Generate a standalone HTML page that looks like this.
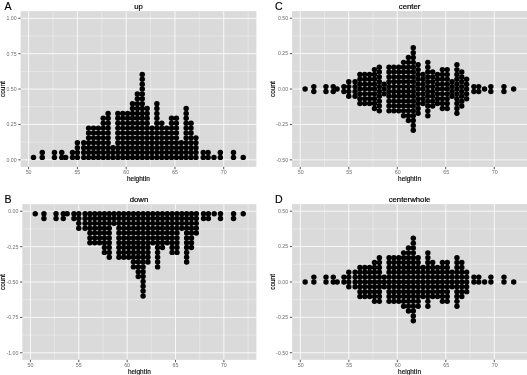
<!DOCTYPE html>
<html><head><meta charset="utf-8"><title>dotplot stackdir</title>
<style>html,body{margin:0;padding:0;background:#fff}svg{display:block}text{font-family:"Liberation Sans", Arial, sans-serif}</style></head><body>
<svg width="527" height="375" viewBox="0 0 527 375">
<rect width="527" height="375" fill="#fff"/>
<g>
<rect x="20.60" y="11.20" width="235.80" height="155.70" fill="#dadada"/>
<line x1="20.60" x2="256.40" y1="142.13" y2="142.13" stroke="#f4f4f4" stroke-width="0.45"/>
<line x1="20.60" x2="256.40" y1="106.74" y2="106.74" stroke="#f4f4f4" stroke-width="0.45"/>
<line x1="20.60" x2="256.40" y1="71.36" y2="71.36" stroke="#f4f4f4" stroke-width="0.45"/>
<line x1="20.60" x2="256.40" y1="35.97" y2="35.97" stroke="#f4f4f4" stroke-width="0.45"/>
<line x1="52.99" x2="52.99" y1="11.20" y2="166.90" stroke="#f4f4f4" stroke-width="0.45"/>
<line x1="101.77" x2="101.77" y1="11.20" y2="166.90" stroke="#f4f4f4" stroke-width="0.45"/>
<line x1="150.55" x2="150.55" y1="11.20" y2="166.90" stroke="#f4f4f4" stroke-width="0.45"/>
<line x1="199.33" x2="199.33" y1="11.20" y2="166.90" stroke="#f4f4f4" stroke-width="0.45"/>
<line x1="248.11" x2="248.11" y1="11.20" y2="166.90" stroke="#f4f4f4" stroke-width="0.45"/>
<line x1="20.60" x2="256.40" y1="159.82" y2="159.82" stroke="#ffffff" stroke-width="0.8"/>
<line x1="18.30" x2="20.60" y1="159.82" y2="159.82" stroke="#333333" stroke-width="0.85"/>
<text x="16.60" y="161.67" font-size="5.2" text-anchor="end" fill="#6e6e6e">0.00</text>
<line x1="20.60" x2="256.40" y1="124.44" y2="124.44" stroke="#ffffff" stroke-width="0.8"/>
<line x1="18.30" x2="20.60" y1="124.44" y2="124.44" stroke="#333333" stroke-width="0.85"/>
<text x="16.60" y="126.29" font-size="5.2" text-anchor="end" fill="#6e6e6e">0.25</text>
<line x1="20.60" x2="256.40" y1="89.05" y2="89.05" stroke="#ffffff" stroke-width="0.8"/>
<line x1="18.30" x2="20.60" y1="89.05" y2="89.05" stroke="#333333" stroke-width="0.85"/>
<text x="16.60" y="90.90" font-size="5.2" text-anchor="end" fill="#6e6e6e">0.50</text>
<line x1="20.60" x2="256.40" y1="53.66" y2="53.66" stroke="#ffffff" stroke-width="0.8"/>
<line x1="18.30" x2="20.60" y1="53.66" y2="53.66" stroke="#333333" stroke-width="0.85"/>
<text x="16.60" y="55.51" font-size="5.2" text-anchor="end" fill="#6e6e6e">0.75</text>
<line x1="20.60" x2="256.40" y1="18.28" y2="18.28" stroke="#ffffff" stroke-width="0.8"/>
<line x1="18.30" x2="20.60" y1="18.28" y2="18.28" stroke="#333333" stroke-width="0.85"/>
<text x="16.60" y="20.13" font-size="5.2" text-anchor="end" fill="#6e6e6e">1.00</text>
<line x1="28.60" x2="28.60" y1="11.20" y2="166.90" stroke="#ffffff" stroke-width="0.8"/>
<line x1="28.60" x2="28.60" y1="166.90" y2="169.20" stroke="#333333" stroke-width="0.85"/>
<text x="28.60" y="174.40" font-size="5.3" text-anchor="middle" fill="#6e6e6e">50</text>
<line x1="77.38" x2="77.38" y1="11.20" y2="166.90" stroke="#ffffff" stroke-width="0.8"/>
<line x1="77.38" x2="77.38" y1="166.90" y2="169.20" stroke="#333333" stroke-width="0.85"/>
<text x="77.38" y="174.40" font-size="5.3" text-anchor="middle" fill="#6e6e6e">55</text>
<line x1="126.16" x2="126.16" y1="11.20" y2="166.90" stroke="#ffffff" stroke-width="0.8"/>
<line x1="126.16" x2="126.16" y1="166.90" y2="169.20" stroke="#333333" stroke-width="0.85"/>
<text x="126.16" y="174.40" font-size="5.3" text-anchor="middle" fill="#6e6e6e">60</text>
<line x1="174.94" x2="174.94" y1="11.20" y2="166.90" stroke="#ffffff" stroke-width="0.8"/>
<line x1="174.94" x2="174.94" y1="166.90" y2="169.20" stroke="#333333" stroke-width="0.85"/>
<text x="174.94" y="174.40" font-size="5.3" text-anchor="middle" fill="#6e6e6e">65</text>
<line x1="223.72" x2="223.72" y1="11.20" y2="166.90" stroke="#ffffff" stroke-width="0.8"/>
<line x1="223.72" x2="223.72" y1="166.90" y2="169.20" stroke="#333333" stroke-width="0.85"/>
<text x="223.72" y="174.40" font-size="5.3" text-anchor="middle" fill="#6e6e6e">70</text>
<circle cx="33.48" cy="157.38" r="2.74"/>
<circle cx="42.26" cy="157.38" r="2.74"/>
<circle cx="42.26" cy="152.51" r="2.74"/>
<circle cx="54.45" cy="157.38" r="2.74"/>
<circle cx="54.45" cy="152.51" r="2.74"/>
<circle cx="61.77" cy="157.38" r="2.74"/>
<circle cx="61.77" cy="152.51" r="2.74"/>
<circle cx="65.67" cy="157.38" r="2.74"/>
<circle cx="72.50" cy="157.38" r="2.74"/>
<circle cx="72.50" cy="152.51" r="2.74"/>
<circle cx="77.38" cy="157.38" r="2.74"/>
<circle cx="77.38" cy="152.51" r="2.74"/>
<circle cx="77.38" cy="147.63" r="2.74"/>
<circle cx="77.38" cy="142.75" r="2.74"/>
<circle cx="83.72" cy="157.38" r="2.74"/>
<circle cx="83.72" cy="152.51" r="2.74"/>
<circle cx="83.72" cy="147.63" r="2.74"/>
<circle cx="83.72" cy="142.75" r="2.74"/>
<circle cx="88.60" cy="157.38" r="2.74"/>
<circle cx="88.60" cy="152.51" r="2.74"/>
<circle cx="88.60" cy="147.63" r="2.74"/>
<circle cx="88.60" cy="142.75" r="2.74"/>
<circle cx="88.60" cy="137.87" r="2.74"/>
<circle cx="88.60" cy="132.99" r="2.74"/>
<circle cx="88.60" cy="128.12" r="2.74"/>
<circle cx="93.48" cy="157.38" r="2.74"/>
<circle cx="93.48" cy="152.51" r="2.74"/>
<circle cx="93.48" cy="147.63" r="2.74"/>
<circle cx="93.48" cy="142.75" r="2.74"/>
<circle cx="93.48" cy="137.87" r="2.74"/>
<circle cx="93.48" cy="132.99" r="2.74"/>
<circle cx="93.48" cy="128.12" r="2.74"/>
<circle cx="98.36" cy="157.38" r="2.74"/>
<circle cx="98.36" cy="152.51" r="2.74"/>
<circle cx="98.36" cy="147.63" r="2.74"/>
<circle cx="98.36" cy="142.75" r="2.74"/>
<circle cx="98.36" cy="137.87" r="2.74"/>
<circle cx="98.36" cy="132.99" r="2.74"/>
<circle cx="98.36" cy="128.12" r="2.74"/>
<circle cx="103.23" cy="157.38" r="2.74"/>
<circle cx="103.23" cy="152.51" r="2.74"/>
<circle cx="103.23" cy="147.63" r="2.74"/>
<circle cx="103.23" cy="142.75" r="2.74"/>
<circle cx="103.23" cy="137.87" r="2.74"/>
<circle cx="103.23" cy="132.99" r="2.74"/>
<circle cx="103.23" cy="128.12" r="2.74"/>
<circle cx="103.23" cy="123.24" r="2.74"/>
<circle cx="103.23" cy="118.36" r="2.74"/>
<circle cx="108.11" cy="157.38" r="2.74"/>
<circle cx="108.11" cy="152.51" r="2.74"/>
<circle cx="108.11" cy="147.63" r="2.74"/>
<circle cx="108.11" cy="142.75" r="2.74"/>
<circle cx="108.11" cy="137.87" r="2.74"/>
<circle cx="108.11" cy="132.99" r="2.74"/>
<circle cx="108.11" cy="128.12" r="2.74"/>
<circle cx="108.11" cy="123.24" r="2.74"/>
<circle cx="108.11" cy="118.36" r="2.74"/>
<circle cx="108.11" cy="113.48" r="2.74"/>
<circle cx="112.99" cy="157.38" r="2.74"/>
<circle cx="112.99" cy="152.51" r="2.74"/>
<circle cx="112.99" cy="147.63" r="2.74"/>
<circle cx="117.87" cy="157.38" r="2.74"/>
<circle cx="117.87" cy="152.51" r="2.74"/>
<circle cx="117.87" cy="147.63" r="2.74"/>
<circle cx="117.87" cy="142.75" r="2.74"/>
<circle cx="117.87" cy="137.87" r="2.74"/>
<circle cx="117.87" cy="132.99" r="2.74"/>
<circle cx="117.87" cy="128.12" r="2.74"/>
<circle cx="117.87" cy="123.24" r="2.74"/>
<circle cx="117.87" cy="118.36" r="2.74"/>
<circle cx="117.87" cy="113.48" r="2.74"/>
<circle cx="122.75" cy="157.38" r="2.74"/>
<circle cx="122.75" cy="152.51" r="2.74"/>
<circle cx="122.75" cy="147.63" r="2.74"/>
<circle cx="122.75" cy="142.75" r="2.74"/>
<circle cx="122.75" cy="137.87" r="2.74"/>
<circle cx="122.75" cy="132.99" r="2.74"/>
<circle cx="122.75" cy="128.12" r="2.74"/>
<circle cx="122.75" cy="123.24" r="2.74"/>
<circle cx="122.75" cy="118.36" r="2.74"/>
<circle cx="122.75" cy="113.48" r="2.74"/>
<circle cx="127.62" cy="157.38" r="2.74"/>
<circle cx="127.62" cy="152.51" r="2.74"/>
<circle cx="127.62" cy="147.63" r="2.74"/>
<circle cx="127.62" cy="142.75" r="2.74"/>
<circle cx="127.62" cy="137.87" r="2.74"/>
<circle cx="127.62" cy="132.99" r="2.74"/>
<circle cx="127.62" cy="128.12" r="2.74"/>
<circle cx="127.62" cy="123.24" r="2.74"/>
<circle cx="127.62" cy="118.36" r="2.74"/>
<circle cx="127.62" cy="113.48" r="2.74"/>
<circle cx="132.50" cy="157.38" r="2.74"/>
<circle cx="132.50" cy="152.51" r="2.74"/>
<circle cx="132.50" cy="147.63" r="2.74"/>
<circle cx="132.50" cy="142.75" r="2.74"/>
<circle cx="132.50" cy="137.87" r="2.74"/>
<circle cx="132.50" cy="132.99" r="2.74"/>
<circle cx="132.50" cy="128.12" r="2.74"/>
<circle cx="132.50" cy="123.24" r="2.74"/>
<circle cx="132.50" cy="118.36" r="2.74"/>
<circle cx="132.50" cy="113.48" r="2.74"/>
<circle cx="132.50" cy="108.60" r="2.74"/>
<circle cx="132.50" cy="103.73" r="2.74"/>
<circle cx="137.38" cy="157.38" r="2.74"/>
<circle cx="137.38" cy="152.51" r="2.74"/>
<circle cx="137.38" cy="147.63" r="2.74"/>
<circle cx="137.38" cy="142.75" r="2.74"/>
<circle cx="137.38" cy="137.87" r="2.74"/>
<circle cx="137.38" cy="132.99" r="2.74"/>
<circle cx="137.38" cy="128.12" r="2.74"/>
<circle cx="137.38" cy="123.24" r="2.74"/>
<circle cx="137.38" cy="118.36" r="2.74"/>
<circle cx="137.38" cy="113.48" r="2.74"/>
<circle cx="137.38" cy="108.60" r="2.74"/>
<circle cx="137.38" cy="103.73" r="2.74"/>
<circle cx="137.38" cy="98.85" r="2.74"/>
<circle cx="137.38" cy="93.97" r="2.74"/>
<circle cx="142.26" cy="157.38" r="2.74"/>
<circle cx="142.26" cy="152.51" r="2.74"/>
<circle cx="142.26" cy="147.63" r="2.74"/>
<circle cx="142.26" cy="142.75" r="2.74"/>
<circle cx="142.26" cy="137.87" r="2.74"/>
<circle cx="142.26" cy="132.99" r="2.74"/>
<circle cx="142.26" cy="128.12" r="2.74"/>
<circle cx="142.26" cy="123.24" r="2.74"/>
<circle cx="142.26" cy="118.36" r="2.74"/>
<circle cx="142.26" cy="113.48" r="2.74"/>
<circle cx="142.26" cy="108.60" r="2.74"/>
<circle cx="142.26" cy="103.73" r="2.74"/>
<circle cx="142.26" cy="98.85" r="2.74"/>
<circle cx="142.26" cy="93.97" r="2.74"/>
<circle cx="142.26" cy="89.09" r="2.74"/>
<circle cx="142.26" cy="84.21" r="2.74"/>
<circle cx="142.26" cy="79.34" r="2.74"/>
<circle cx="142.26" cy="74.46" r="2.74"/>
<circle cx="147.14" cy="157.38" r="2.74"/>
<circle cx="147.14" cy="152.51" r="2.74"/>
<circle cx="147.14" cy="147.63" r="2.74"/>
<circle cx="147.14" cy="142.75" r="2.74"/>
<circle cx="147.14" cy="137.87" r="2.74"/>
<circle cx="147.14" cy="132.99" r="2.74"/>
<circle cx="147.14" cy="128.12" r="2.74"/>
<circle cx="147.14" cy="123.24" r="2.74"/>
<circle cx="147.14" cy="118.36" r="2.74"/>
<circle cx="147.14" cy="113.48" r="2.74"/>
<circle cx="147.14" cy="108.60" r="2.74"/>
<circle cx="152.01" cy="157.38" r="2.74"/>
<circle cx="152.01" cy="152.51" r="2.74"/>
<circle cx="152.01" cy="147.63" r="2.74"/>
<circle cx="152.01" cy="142.75" r="2.74"/>
<circle cx="152.01" cy="137.87" r="2.74"/>
<circle cx="152.01" cy="132.99" r="2.74"/>
<circle cx="152.01" cy="128.12" r="2.74"/>
<circle cx="156.89" cy="157.38" r="2.74"/>
<circle cx="156.89" cy="152.51" r="2.74"/>
<circle cx="156.89" cy="147.63" r="2.74"/>
<circle cx="156.89" cy="142.75" r="2.74"/>
<circle cx="156.89" cy="137.87" r="2.74"/>
<circle cx="156.89" cy="132.99" r="2.74"/>
<circle cx="156.89" cy="128.12" r="2.74"/>
<circle cx="156.89" cy="123.24" r="2.74"/>
<circle cx="156.89" cy="118.36" r="2.74"/>
<circle cx="156.89" cy="113.48" r="2.74"/>
<circle cx="156.89" cy="108.60" r="2.74"/>
<circle cx="156.89" cy="103.73" r="2.74"/>
<circle cx="161.77" cy="157.38" r="2.74"/>
<circle cx="161.77" cy="152.51" r="2.74"/>
<circle cx="161.77" cy="147.63" r="2.74"/>
<circle cx="161.77" cy="142.75" r="2.74"/>
<circle cx="161.77" cy="137.87" r="2.74"/>
<circle cx="161.77" cy="132.99" r="2.74"/>
<circle cx="161.77" cy="128.12" r="2.74"/>
<circle cx="161.77" cy="123.24" r="2.74"/>
<circle cx="166.65" cy="157.38" r="2.74"/>
<circle cx="166.65" cy="152.51" r="2.74"/>
<circle cx="166.65" cy="147.63" r="2.74"/>
<circle cx="166.65" cy="142.75" r="2.74"/>
<circle cx="166.65" cy="137.87" r="2.74"/>
<circle cx="166.65" cy="132.99" r="2.74"/>
<circle cx="166.65" cy="128.12" r="2.74"/>
<circle cx="171.53" cy="157.38" r="2.74"/>
<circle cx="171.53" cy="152.51" r="2.74"/>
<circle cx="171.53" cy="147.63" r="2.74"/>
<circle cx="171.53" cy="142.75" r="2.74"/>
<circle cx="171.53" cy="137.87" r="2.74"/>
<circle cx="171.53" cy="132.99" r="2.74"/>
<circle cx="171.53" cy="128.12" r="2.74"/>
<circle cx="171.53" cy="123.24" r="2.74"/>
<circle cx="171.53" cy="118.36" r="2.74"/>
<circle cx="176.40" cy="157.38" r="2.74"/>
<circle cx="176.40" cy="152.51" r="2.74"/>
<circle cx="176.40" cy="147.63" r="2.74"/>
<circle cx="176.40" cy="142.75" r="2.74"/>
<circle cx="176.40" cy="137.87" r="2.74"/>
<circle cx="176.40" cy="132.99" r="2.74"/>
<circle cx="176.40" cy="128.12" r="2.74"/>
<circle cx="176.40" cy="123.24" r="2.74"/>
<circle cx="176.40" cy="118.36" r="2.74"/>
<circle cx="181.28" cy="157.38" r="2.74"/>
<circle cx="181.28" cy="152.51" r="2.74"/>
<circle cx="181.28" cy="147.63" r="2.74"/>
<circle cx="181.28" cy="142.75" r="2.74"/>
<circle cx="186.16" cy="157.38" r="2.74"/>
<circle cx="186.16" cy="152.51" r="2.74"/>
<circle cx="186.16" cy="147.63" r="2.74"/>
<circle cx="186.16" cy="142.75" r="2.74"/>
<circle cx="186.16" cy="137.87" r="2.74"/>
<circle cx="186.16" cy="132.99" r="2.74"/>
<circle cx="186.16" cy="128.12" r="2.74"/>
<circle cx="186.16" cy="123.24" r="2.74"/>
<circle cx="186.16" cy="118.36" r="2.74"/>
<circle cx="186.16" cy="113.48" r="2.74"/>
<circle cx="186.16" cy="108.60" r="2.74"/>
<circle cx="191.04" cy="157.38" r="2.74"/>
<circle cx="191.04" cy="152.51" r="2.74"/>
<circle cx="191.04" cy="147.63" r="2.74"/>
<circle cx="191.04" cy="142.75" r="2.74"/>
<circle cx="191.04" cy="137.87" r="2.74"/>
<circle cx="191.04" cy="132.99" r="2.74"/>
<circle cx="191.04" cy="128.12" r="2.74"/>
<circle cx="191.04" cy="123.24" r="2.74"/>
<circle cx="195.92" cy="157.38" r="2.74"/>
<circle cx="195.92" cy="152.51" r="2.74"/>
<circle cx="195.92" cy="147.63" r="2.74"/>
<circle cx="195.92" cy="142.75" r="2.74"/>
<circle cx="195.92" cy="137.87" r="2.74"/>
<circle cx="203.23" cy="157.38" r="2.74"/>
<circle cx="203.23" cy="152.51" r="2.74"/>
<circle cx="208.11" cy="157.38" r="2.74"/>
<circle cx="208.11" cy="152.51" r="2.74"/>
<circle cx="213.96" cy="157.38" r="2.74"/>
<circle cx="220.31" cy="157.38" r="2.74"/>
<circle cx="220.31" cy="152.51" r="2.74"/>
<circle cx="233.48" cy="157.38" r="2.74"/>
<circle cx="233.48" cy="152.51" r="2.74"/>
<circle cx="243.23" cy="157.38" r="2.74"/>
<text x="138.50" y="9.30" font-size="7.75" text-anchor="middle" fill="#000" stroke="#000" stroke-width="0.2">up</text>
<text x="138.50" y="181.40" font-size="6.45" text-anchor="middle" fill="#000" stroke="#000" stroke-width="0.15">heightIn</text>
<text transform="translate(4.60 89.05) rotate(-90)" font-size="6.45" text-anchor="middle" fill="#000" stroke="#000" stroke-width="0.15">count</text>
<text x="4.60" y="9.60" font-size="10.6" fill="#000" stroke="#000" stroke-width="0.15">A</text>
</g>
<g>
<rect x="22.30" y="204.20" width="234.10" height="155.65" fill="#dadada"/>
<line x1="22.30" x2="256.40" y1="335.09" y2="335.09" stroke="#f4f4f4" stroke-width="0.45"/>
<line x1="22.30" x2="256.40" y1="299.71" y2="299.71" stroke="#f4f4f4" stroke-width="0.45"/>
<line x1="22.30" x2="256.40" y1="264.34" y2="264.34" stroke="#f4f4f4" stroke-width="0.45"/>
<line x1="22.30" x2="256.40" y1="228.96" y2="228.96" stroke="#f4f4f4" stroke-width="0.45"/>
<line x1="54.58" x2="54.58" y1="204.20" y2="359.85" stroke="#f4f4f4" stroke-width="0.45"/>
<line x1="102.95" x2="102.95" y1="204.20" y2="359.85" stroke="#f4f4f4" stroke-width="0.45"/>
<line x1="151.32" x2="151.32" y1="204.20" y2="359.85" stroke="#f4f4f4" stroke-width="0.45"/>
<line x1="199.69" x2="199.69" y1="204.20" y2="359.85" stroke="#f4f4f4" stroke-width="0.45"/>
<line x1="248.06" x2="248.06" y1="204.20" y2="359.85" stroke="#f4f4f4" stroke-width="0.45"/>
<line x1="22.30" x2="256.40" y1="352.78" y2="352.78" stroke="#ffffff" stroke-width="0.8"/>
<line x1="20.00" x2="22.30" y1="352.78" y2="352.78" stroke="#333333" stroke-width="0.85"/>
<text x="18.30" y="354.63" font-size="5.2" text-anchor="end" fill="#6e6e6e">-1.00</text>
<line x1="22.30" x2="256.40" y1="317.40" y2="317.40" stroke="#ffffff" stroke-width="0.8"/>
<line x1="20.00" x2="22.30" y1="317.40" y2="317.40" stroke="#333333" stroke-width="0.85"/>
<text x="18.30" y="319.25" font-size="5.2" text-anchor="end" fill="#6e6e6e">-0.75</text>
<line x1="22.30" x2="256.40" y1="282.02" y2="282.02" stroke="#ffffff" stroke-width="0.8"/>
<line x1="20.00" x2="22.30" y1="282.02" y2="282.02" stroke="#333333" stroke-width="0.85"/>
<text x="18.30" y="283.88" font-size="5.2" text-anchor="end" fill="#6e6e6e">-0.50</text>
<line x1="22.30" x2="256.40" y1="246.65" y2="246.65" stroke="#ffffff" stroke-width="0.8"/>
<line x1="20.00" x2="22.30" y1="246.65" y2="246.65" stroke="#333333" stroke-width="0.85"/>
<text x="18.30" y="248.50" font-size="5.2" text-anchor="end" fill="#6e6e6e">-0.25</text>
<line x1="22.30" x2="256.40" y1="211.27" y2="211.27" stroke="#ffffff" stroke-width="0.8"/>
<line x1="20.00" x2="22.30" y1="211.27" y2="211.27" stroke="#333333" stroke-width="0.85"/>
<text x="18.30" y="213.12" font-size="5.2" text-anchor="end" fill="#6e6e6e">0.00</text>
<line x1="30.40" x2="30.40" y1="204.20" y2="359.85" stroke="#ffffff" stroke-width="0.8"/>
<line x1="30.40" x2="30.40" y1="359.85" y2="362.15" stroke="#333333" stroke-width="0.85"/>
<text x="30.40" y="367.35" font-size="5.3" text-anchor="middle" fill="#6e6e6e">50</text>
<line x1="78.77" x2="78.77" y1="204.20" y2="359.85" stroke="#ffffff" stroke-width="0.8"/>
<line x1="78.77" x2="78.77" y1="359.85" y2="362.15" stroke="#333333" stroke-width="0.85"/>
<text x="78.77" y="367.35" font-size="5.3" text-anchor="middle" fill="#6e6e6e">55</text>
<line x1="127.14" x2="127.14" y1="204.20" y2="359.85" stroke="#ffffff" stroke-width="0.8"/>
<line x1="127.14" x2="127.14" y1="359.85" y2="362.15" stroke="#333333" stroke-width="0.85"/>
<text x="127.14" y="367.35" font-size="5.3" text-anchor="middle" fill="#6e6e6e">60</text>
<line x1="175.51" x2="175.51" y1="204.20" y2="359.85" stroke="#ffffff" stroke-width="0.8"/>
<line x1="175.51" x2="175.51" y1="359.85" y2="362.15" stroke="#333333" stroke-width="0.85"/>
<text x="175.51" y="367.35" font-size="5.3" text-anchor="middle" fill="#6e6e6e">65</text>
<line x1="223.88" x2="223.88" y1="204.20" y2="359.85" stroke="#ffffff" stroke-width="0.8"/>
<line x1="223.88" x2="223.88" y1="359.85" y2="362.15" stroke="#333333" stroke-width="0.85"/>
<text x="223.88" y="367.35" font-size="5.3" text-anchor="middle" fill="#6e6e6e">70</text>
<circle cx="35.24" cy="213.69" r="2.72"/>
<circle cx="43.94" cy="213.69" r="2.72"/>
<circle cx="43.94" cy="218.53" r="2.72"/>
<circle cx="56.04" cy="213.69" r="2.72"/>
<circle cx="56.04" cy="218.53" r="2.72"/>
<circle cx="63.29" cy="213.69" r="2.72"/>
<circle cx="63.29" cy="218.53" r="2.72"/>
<circle cx="67.16" cy="213.69" r="2.72"/>
<circle cx="73.93" cy="213.69" r="2.72"/>
<circle cx="73.93" cy="218.53" r="2.72"/>
<circle cx="78.77" cy="213.69" r="2.72"/>
<circle cx="78.77" cy="218.53" r="2.72"/>
<circle cx="78.77" cy="223.37" r="2.72"/>
<circle cx="78.77" cy="228.20" r="2.72"/>
<circle cx="85.06" cy="213.69" r="2.72"/>
<circle cx="85.06" cy="218.53" r="2.72"/>
<circle cx="85.06" cy="223.37" r="2.72"/>
<circle cx="85.06" cy="228.20" r="2.72"/>
<circle cx="89.90" cy="213.69" r="2.72"/>
<circle cx="89.90" cy="218.53" r="2.72"/>
<circle cx="89.90" cy="223.37" r="2.72"/>
<circle cx="89.90" cy="228.20" r="2.72"/>
<circle cx="89.90" cy="233.04" r="2.72"/>
<circle cx="89.90" cy="237.88" r="2.72"/>
<circle cx="89.90" cy="242.72" r="2.72"/>
<circle cx="94.73" cy="213.69" r="2.72"/>
<circle cx="94.73" cy="218.53" r="2.72"/>
<circle cx="94.73" cy="223.37" r="2.72"/>
<circle cx="94.73" cy="228.20" r="2.72"/>
<circle cx="94.73" cy="233.04" r="2.72"/>
<circle cx="94.73" cy="237.88" r="2.72"/>
<circle cx="94.73" cy="242.72" r="2.72"/>
<circle cx="99.57" cy="213.69" r="2.72"/>
<circle cx="99.57" cy="218.53" r="2.72"/>
<circle cx="99.57" cy="223.37" r="2.72"/>
<circle cx="99.57" cy="228.20" r="2.72"/>
<circle cx="99.57" cy="233.04" r="2.72"/>
<circle cx="99.57" cy="237.88" r="2.72"/>
<circle cx="99.57" cy="242.72" r="2.72"/>
<circle cx="104.41" cy="213.69" r="2.72"/>
<circle cx="104.41" cy="218.53" r="2.72"/>
<circle cx="104.41" cy="223.37" r="2.72"/>
<circle cx="104.41" cy="228.20" r="2.72"/>
<circle cx="104.41" cy="233.04" r="2.72"/>
<circle cx="104.41" cy="237.88" r="2.72"/>
<circle cx="104.41" cy="242.72" r="2.72"/>
<circle cx="104.41" cy="247.55" r="2.72"/>
<circle cx="104.41" cy="252.39" r="2.72"/>
<circle cx="109.24" cy="213.69" r="2.72"/>
<circle cx="109.24" cy="218.53" r="2.72"/>
<circle cx="109.24" cy="223.37" r="2.72"/>
<circle cx="109.24" cy="228.20" r="2.72"/>
<circle cx="109.24" cy="233.04" r="2.72"/>
<circle cx="109.24" cy="237.88" r="2.72"/>
<circle cx="109.24" cy="242.72" r="2.72"/>
<circle cx="109.24" cy="247.55" r="2.72"/>
<circle cx="109.24" cy="252.39" r="2.72"/>
<circle cx="109.24" cy="257.23" r="2.72"/>
<circle cx="114.08" cy="213.69" r="2.72"/>
<circle cx="114.08" cy="218.53" r="2.72"/>
<circle cx="114.08" cy="223.37" r="2.72"/>
<circle cx="118.92" cy="213.69" r="2.72"/>
<circle cx="118.92" cy="218.53" r="2.72"/>
<circle cx="118.92" cy="223.37" r="2.72"/>
<circle cx="118.92" cy="228.20" r="2.72"/>
<circle cx="118.92" cy="233.04" r="2.72"/>
<circle cx="118.92" cy="237.88" r="2.72"/>
<circle cx="118.92" cy="242.72" r="2.72"/>
<circle cx="118.92" cy="247.55" r="2.72"/>
<circle cx="118.92" cy="252.39" r="2.72"/>
<circle cx="118.92" cy="257.23" r="2.72"/>
<circle cx="123.75" cy="213.69" r="2.72"/>
<circle cx="123.75" cy="218.53" r="2.72"/>
<circle cx="123.75" cy="223.37" r="2.72"/>
<circle cx="123.75" cy="228.20" r="2.72"/>
<circle cx="123.75" cy="233.04" r="2.72"/>
<circle cx="123.75" cy="237.88" r="2.72"/>
<circle cx="123.75" cy="242.72" r="2.72"/>
<circle cx="123.75" cy="247.55" r="2.72"/>
<circle cx="123.75" cy="252.39" r="2.72"/>
<circle cx="123.75" cy="257.23" r="2.72"/>
<circle cx="128.59" cy="213.69" r="2.72"/>
<circle cx="128.59" cy="218.53" r="2.72"/>
<circle cx="128.59" cy="223.37" r="2.72"/>
<circle cx="128.59" cy="228.20" r="2.72"/>
<circle cx="128.59" cy="233.04" r="2.72"/>
<circle cx="128.59" cy="237.88" r="2.72"/>
<circle cx="128.59" cy="242.72" r="2.72"/>
<circle cx="128.59" cy="247.55" r="2.72"/>
<circle cx="128.59" cy="252.39" r="2.72"/>
<circle cx="128.59" cy="257.23" r="2.72"/>
<circle cx="133.43" cy="213.69" r="2.72"/>
<circle cx="133.43" cy="218.53" r="2.72"/>
<circle cx="133.43" cy="223.37" r="2.72"/>
<circle cx="133.43" cy="228.20" r="2.72"/>
<circle cx="133.43" cy="233.04" r="2.72"/>
<circle cx="133.43" cy="237.88" r="2.72"/>
<circle cx="133.43" cy="242.72" r="2.72"/>
<circle cx="133.43" cy="247.55" r="2.72"/>
<circle cx="133.43" cy="252.39" r="2.72"/>
<circle cx="133.43" cy="257.23" r="2.72"/>
<circle cx="133.43" cy="262.06" r="2.72"/>
<circle cx="133.43" cy="266.90" r="2.72"/>
<circle cx="138.27" cy="213.69" r="2.72"/>
<circle cx="138.27" cy="218.53" r="2.72"/>
<circle cx="138.27" cy="223.37" r="2.72"/>
<circle cx="138.27" cy="228.20" r="2.72"/>
<circle cx="138.27" cy="233.04" r="2.72"/>
<circle cx="138.27" cy="237.88" r="2.72"/>
<circle cx="138.27" cy="242.72" r="2.72"/>
<circle cx="138.27" cy="247.55" r="2.72"/>
<circle cx="138.27" cy="252.39" r="2.72"/>
<circle cx="138.27" cy="257.23" r="2.72"/>
<circle cx="138.27" cy="262.06" r="2.72"/>
<circle cx="138.27" cy="266.90" r="2.72"/>
<circle cx="138.27" cy="271.74" r="2.72"/>
<circle cx="138.27" cy="276.57" r="2.72"/>
<circle cx="143.10" cy="213.69" r="2.72"/>
<circle cx="143.10" cy="218.53" r="2.72"/>
<circle cx="143.10" cy="223.37" r="2.72"/>
<circle cx="143.10" cy="228.20" r="2.72"/>
<circle cx="143.10" cy="233.04" r="2.72"/>
<circle cx="143.10" cy="237.88" r="2.72"/>
<circle cx="143.10" cy="242.72" r="2.72"/>
<circle cx="143.10" cy="247.55" r="2.72"/>
<circle cx="143.10" cy="252.39" r="2.72"/>
<circle cx="143.10" cy="257.23" r="2.72"/>
<circle cx="143.10" cy="262.06" r="2.72"/>
<circle cx="143.10" cy="266.90" r="2.72"/>
<circle cx="143.10" cy="271.74" r="2.72"/>
<circle cx="143.10" cy="276.57" r="2.72"/>
<circle cx="143.10" cy="281.41" r="2.72"/>
<circle cx="143.10" cy="286.25" r="2.72"/>
<circle cx="143.10" cy="291.09" r="2.72"/>
<circle cx="143.10" cy="295.92" r="2.72"/>
<circle cx="147.94" cy="213.69" r="2.72"/>
<circle cx="147.94" cy="218.53" r="2.72"/>
<circle cx="147.94" cy="223.37" r="2.72"/>
<circle cx="147.94" cy="228.20" r="2.72"/>
<circle cx="147.94" cy="233.04" r="2.72"/>
<circle cx="147.94" cy="237.88" r="2.72"/>
<circle cx="147.94" cy="242.72" r="2.72"/>
<circle cx="147.94" cy="247.55" r="2.72"/>
<circle cx="147.94" cy="252.39" r="2.72"/>
<circle cx="147.94" cy="257.23" r="2.72"/>
<circle cx="147.94" cy="262.06" r="2.72"/>
<circle cx="152.78" cy="213.69" r="2.72"/>
<circle cx="152.78" cy="218.53" r="2.72"/>
<circle cx="152.78" cy="223.37" r="2.72"/>
<circle cx="152.78" cy="228.20" r="2.72"/>
<circle cx="152.78" cy="233.04" r="2.72"/>
<circle cx="152.78" cy="237.88" r="2.72"/>
<circle cx="152.78" cy="242.72" r="2.72"/>
<circle cx="157.61" cy="213.69" r="2.72"/>
<circle cx="157.61" cy="218.53" r="2.72"/>
<circle cx="157.61" cy="223.37" r="2.72"/>
<circle cx="157.61" cy="228.20" r="2.72"/>
<circle cx="157.61" cy="233.04" r="2.72"/>
<circle cx="157.61" cy="237.88" r="2.72"/>
<circle cx="157.61" cy="242.72" r="2.72"/>
<circle cx="157.61" cy="247.55" r="2.72"/>
<circle cx="157.61" cy="252.39" r="2.72"/>
<circle cx="157.61" cy="257.23" r="2.72"/>
<circle cx="157.61" cy="262.06" r="2.72"/>
<circle cx="157.61" cy="266.90" r="2.72"/>
<circle cx="162.45" cy="213.69" r="2.72"/>
<circle cx="162.45" cy="218.53" r="2.72"/>
<circle cx="162.45" cy="223.37" r="2.72"/>
<circle cx="162.45" cy="228.20" r="2.72"/>
<circle cx="162.45" cy="233.04" r="2.72"/>
<circle cx="162.45" cy="237.88" r="2.72"/>
<circle cx="162.45" cy="242.72" r="2.72"/>
<circle cx="162.45" cy="247.55" r="2.72"/>
<circle cx="167.29" cy="213.69" r="2.72"/>
<circle cx="167.29" cy="218.53" r="2.72"/>
<circle cx="167.29" cy="223.37" r="2.72"/>
<circle cx="167.29" cy="228.20" r="2.72"/>
<circle cx="167.29" cy="233.04" r="2.72"/>
<circle cx="167.29" cy="237.88" r="2.72"/>
<circle cx="167.29" cy="242.72" r="2.72"/>
<circle cx="172.12" cy="213.69" r="2.72"/>
<circle cx="172.12" cy="218.53" r="2.72"/>
<circle cx="172.12" cy="223.37" r="2.72"/>
<circle cx="172.12" cy="228.20" r="2.72"/>
<circle cx="172.12" cy="233.04" r="2.72"/>
<circle cx="172.12" cy="237.88" r="2.72"/>
<circle cx="172.12" cy="242.72" r="2.72"/>
<circle cx="172.12" cy="247.55" r="2.72"/>
<circle cx="172.12" cy="252.39" r="2.72"/>
<circle cx="176.96" cy="213.69" r="2.72"/>
<circle cx="176.96" cy="218.53" r="2.72"/>
<circle cx="176.96" cy="223.37" r="2.72"/>
<circle cx="176.96" cy="228.20" r="2.72"/>
<circle cx="176.96" cy="233.04" r="2.72"/>
<circle cx="176.96" cy="237.88" r="2.72"/>
<circle cx="176.96" cy="242.72" r="2.72"/>
<circle cx="176.96" cy="247.55" r="2.72"/>
<circle cx="176.96" cy="252.39" r="2.72"/>
<circle cx="181.80" cy="213.69" r="2.72"/>
<circle cx="181.80" cy="218.53" r="2.72"/>
<circle cx="181.80" cy="223.37" r="2.72"/>
<circle cx="181.80" cy="228.20" r="2.72"/>
<circle cx="186.64" cy="213.69" r="2.72"/>
<circle cx="186.64" cy="218.53" r="2.72"/>
<circle cx="186.64" cy="223.37" r="2.72"/>
<circle cx="186.64" cy="228.20" r="2.72"/>
<circle cx="186.64" cy="233.04" r="2.72"/>
<circle cx="186.64" cy="237.88" r="2.72"/>
<circle cx="186.64" cy="242.72" r="2.72"/>
<circle cx="186.64" cy="247.55" r="2.72"/>
<circle cx="186.64" cy="252.39" r="2.72"/>
<circle cx="186.64" cy="257.23" r="2.72"/>
<circle cx="186.64" cy="262.06" r="2.72"/>
<circle cx="191.47" cy="213.69" r="2.72"/>
<circle cx="191.47" cy="218.53" r="2.72"/>
<circle cx="191.47" cy="223.37" r="2.72"/>
<circle cx="191.47" cy="228.20" r="2.72"/>
<circle cx="191.47" cy="233.04" r="2.72"/>
<circle cx="191.47" cy="237.88" r="2.72"/>
<circle cx="191.47" cy="242.72" r="2.72"/>
<circle cx="191.47" cy="247.55" r="2.72"/>
<circle cx="196.31" cy="213.69" r="2.72"/>
<circle cx="196.31" cy="218.53" r="2.72"/>
<circle cx="196.31" cy="223.37" r="2.72"/>
<circle cx="196.31" cy="228.20" r="2.72"/>
<circle cx="196.31" cy="233.04" r="2.72"/>
<circle cx="203.56" cy="213.69" r="2.72"/>
<circle cx="203.56" cy="218.53" r="2.72"/>
<circle cx="208.40" cy="213.69" r="2.72"/>
<circle cx="208.40" cy="218.53" r="2.72"/>
<circle cx="214.21" cy="213.69" r="2.72"/>
<circle cx="220.49" cy="213.69" r="2.72"/>
<circle cx="220.49" cy="218.53" r="2.72"/>
<circle cx="233.55" cy="213.69" r="2.72"/>
<circle cx="233.55" cy="218.53" r="2.72"/>
<circle cx="243.23" cy="213.69" r="2.72"/>
<text x="138.95" y="202.30" font-size="7.75" text-anchor="middle" fill="#000" stroke="#000" stroke-width="0.2">down</text>
<text x="139.35" y="374.35" font-size="6.45" text-anchor="middle" fill="#000" stroke="#000" stroke-width="0.15">heightIn</text>
<text transform="translate(4.70 282.02) rotate(-90)" font-size="6.45" text-anchor="middle" fill="#000" stroke="#000" stroke-width="0.15">count</text>
<text x="4.50" y="202.75" font-size="10.6" fill="#000" stroke="#000" stroke-width="0.15">B</text>
</g>
<g>
<rect x="292.10" y="11.10" width="234.90" height="155.85" fill="#dadada"/>
<line x1="292.10" x2="527.00" y1="142.16" y2="142.16" stroke="#f4f4f4" stroke-width="0.45"/>
<line x1="292.10" x2="527.00" y1="106.74" y2="106.74" stroke="#f4f4f4" stroke-width="0.45"/>
<line x1="292.10" x2="527.00" y1="71.31" y2="71.31" stroke="#f4f4f4" stroke-width="0.45"/>
<line x1="292.10" x2="527.00" y1="35.89" y2="35.89" stroke="#f4f4f4" stroke-width="0.45"/>
<line x1="324.50" x2="324.50" y1="11.10" y2="166.95" stroke="#f4f4f4" stroke-width="0.45"/>
<line x1="373.00" x2="373.00" y1="11.10" y2="166.95" stroke="#f4f4f4" stroke-width="0.45"/>
<line x1="421.50" x2="421.50" y1="11.10" y2="166.95" stroke="#f4f4f4" stroke-width="0.45"/>
<line x1="470.00" x2="470.00" y1="11.10" y2="166.95" stroke="#f4f4f4" stroke-width="0.45"/>
<line x1="292.10" x2="527.00" y1="159.87" y2="159.87" stroke="#ffffff" stroke-width="0.8"/>
<line x1="289.80" x2="292.10" y1="159.87" y2="159.87" stroke="#333333" stroke-width="0.85"/>
<text x="288.10" y="161.72" font-size="5.2" text-anchor="end" fill="#6e6e6e">-0.50</text>
<line x1="292.10" x2="527.00" y1="124.45" y2="124.45" stroke="#ffffff" stroke-width="0.8"/>
<line x1="289.80" x2="292.10" y1="124.45" y2="124.45" stroke="#333333" stroke-width="0.85"/>
<text x="288.10" y="126.30" font-size="5.2" text-anchor="end" fill="#6e6e6e">-0.25</text>
<line x1="292.10" x2="527.00" y1="89.02" y2="89.02" stroke="#ffffff" stroke-width="0.8"/>
<line x1="289.80" x2="292.10" y1="89.02" y2="89.02" stroke="#333333" stroke-width="0.85"/>
<text x="288.10" y="90.87" font-size="5.2" text-anchor="end" fill="#6e6e6e">0.00</text>
<line x1="292.10" x2="527.00" y1="53.60" y2="53.60" stroke="#ffffff" stroke-width="0.8"/>
<line x1="289.80" x2="292.10" y1="53.60" y2="53.60" stroke="#333333" stroke-width="0.85"/>
<text x="288.10" y="55.45" font-size="5.2" text-anchor="end" fill="#6e6e6e">0.25</text>
<line x1="292.10" x2="527.00" y1="18.18" y2="18.18" stroke="#ffffff" stroke-width="0.8"/>
<line x1="289.80" x2="292.10" y1="18.18" y2="18.18" stroke="#333333" stroke-width="0.85"/>
<text x="288.10" y="20.03" font-size="5.2" text-anchor="end" fill="#6e6e6e">0.50</text>
<line x1="300.25" x2="300.25" y1="11.10" y2="166.95" stroke="#ffffff" stroke-width="0.8"/>
<line x1="300.25" x2="300.25" y1="166.95" y2="169.25" stroke="#333333" stroke-width="0.85"/>
<text x="300.75" y="174.45" font-size="5.3" text-anchor="middle" fill="#6e6e6e">50</text>
<line x1="348.75" x2="348.75" y1="11.10" y2="166.95" stroke="#ffffff" stroke-width="0.8"/>
<line x1="348.75" x2="348.75" y1="166.95" y2="169.25" stroke="#333333" stroke-width="0.85"/>
<text x="349.25" y="174.45" font-size="5.3" text-anchor="middle" fill="#6e6e6e">55</text>
<line x1="397.25" x2="397.25" y1="11.10" y2="166.95" stroke="#ffffff" stroke-width="0.8"/>
<line x1="397.25" x2="397.25" y1="166.95" y2="169.25" stroke="#333333" stroke-width="0.85"/>
<text x="397.75" y="174.45" font-size="5.3" text-anchor="middle" fill="#6e6e6e">60</text>
<line x1="445.75" x2="445.75" y1="11.10" y2="166.95" stroke="#ffffff" stroke-width="0.8"/>
<line x1="445.75" x2="445.75" y1="166.95" y2="169.25" stroke="#333333" stroke-width="0.85"/>
<text x="446.25" y="174.45" font-size="5.3" text-anchor="middle" fill="#6e6e6e">65</text>
<line x1="494.25" x2="494.25" y1="11.10" y2="166.95" stroke="#ffffff" stroke-width="0.8"/>
<line x1="494.25" x2="494.25" y1="166.95" y2="169.25" stroke="#333333" stroke-width="0.85"/>
<text x="494.75" y="174.45" font-size="5.3" text-anchor="middle" fill="#6e6e6e">70</text>
<circle cx="305.10" cy="89.02" r="2.72"/>
<circle cx="313.83" cy="91.45" r="2.72"/>
<circle cx="313.83" cy="86.60" r="2.72"/>
<circle cx="325.95" cy="91.45" r="2.72"/>
<circle cx="325.95" cy="86.60" r="2.72"/>
<circle cx="333.23" cy="91.45" r="2.72"/>
<circle cx="333.23" cy="86.60" r="2.72"/>
<circle cx="337.11" cy="89.02" r="2.72"/>
<circle cx="343.90" cy="91.45" r="2.72"/>
<circle cx="343.90" cy="86.60" r="2.72"/>
<circle cx="348.75" cy="96.30" r="2.72"/>
<circle cx="348.75" cy="91.45" r="2.72"/>
<circle cx="348.75" cy="86.60" r="2.72"/>
<circle cx="348.75" cy="81.75" r="2.72"/>
<circle cx="355.06" cy="96.30" r="2.72"/>
<circle cx="355.06" cy="91.45" r="2.72"/>
<circle cx="355.06" cy="86.60" r="2.72"/>
<circle cx="355.06" cy="81.75" r="2.72"/>
<circle cx="359.90" cy="103.57" r="2.72"/>
<circle cx="359.90" cy="98.72" r="2.72"/>
<circle cx="359.90" cy="93.87" r="2.72"/>
<circle cx="359.90" cy="89.02" r="2.72"/>
<circle cx="359.90" cy="84.17" r="2.72"/>
<circle cx="359.90" cy="79.32" r="2.72"/>
<circle cx="359.90" cy="74.47" r="2.72"/>
<circle cx="364.75" cy="103.57" r="2.72"/>
<circle cx="364.75" cy="98.72" r="2.72"/>
<circle cx="364.75" cy="93.87" r="2.72"/>
<circle cx="364.75" cy="89.02" r="2.72"/>
<circle cx="364.75" cy="84.17" r="2.72"/>
<circle cx="364.75" cy="79.32" r="2.72"/>
<circle cx="364.75" cy="74.47" r="2.72"/>
<circle cx="369.60" cy="103.57" r="2.72"/>
<circle cx="369.60" cy="98.72" r="2.72"/>
<circle cx="369.60" cy="93.87" r="2.72"/>
<circle cx="369.60" cy="89.02" r="2.72"/>
<circle cx="369.60" cy="84.17" r="2.72"/>
<circle cx="369.60" cy="79.32" r="2.72"/>
<circle cx="369.60" cy="74.47" r="2.72"/>
<circle cx="374.45" cy="108.42" r="2.72"/>
<circle cx="374.45" cy="103.57" r="2.72"/>
<circle cx="374.45" cy="98.72" r="2.72"/>
<circle cx="374.45" cy="93.87" r="2.72"/>
<circle cx="374.45" cy="89.02" r="2.72"/>
<circle cx="374.45" cy="84.17" r="2.72"/>
<circle cx="374.45" cy="79.32" r="2.72"/>
<circle cx="374.45" cy="74.47" r="2.72"/>
<circle cx="374.45" cy="69.62" r="2.72"/>
<circle cx="379.30" cy="110.85" r="2.72"/>
<circle cx="379.30" cy="106.00" r="2.72"/>
<circle cx="379.30" cy="101.15" r="2.72"/>
<circle cx="379.30" cy="96.30" r="2.72"/>
<circle cx="379.30" cy="91.45" r="2.72"/>
<circle cx="379.30" cy="86.60" r="2.72"/>
<circle cx="379.30" cy="81.75" r="2.72"/>
<circle cx="379.30" cy="76.90" r="2.72"/>
<circle cx="379.30" cy="72.05" r="2.72"/>
<circle cx="379.30" cy="67.20" r="2.72"/>
<circle cx="384.15" cy="93.87" r="2.72"/>
<circle cx="384.15" cy="89.02" r="2.72"/>
<circle cx="384.15" cy="84.17" r="2.72"/>
<circle cx="389.00" cy="110.85" r="2.72"/>
<circle cx="389.00" cy="106.00" r="2.72"/>
<circle cx="389.00" cy="101.15" r="2.72"/>
<circle cx="389.00" cy="96.30" r="2.72"/>
<circle cx="389.00" cy="91.45" r="2.72"/>
<circle cx="389.00" cy="86.60" r="2.72"/>
<circle cx="389.00" cy="81.75" r="2.72"/>
<circle cx="389.00" cy="76.90" r="2.72"/>
<circle cx="389.00" cy="72.05" r="2.72"/>
<circle cx="389.00" cy="67.20" r="2.72"/>
<circle cx="393.85" cy="110.85" r="2.72"/>
<circle cx="393.85" cy="106.00" r="2.72"/>
<circle cx="393.85" cy="101.15" r="2.72"/>
<circle cx="393.85" cy="96.30" r="2.72"/>
<circle cx="393.85" cy="91.45" r="2.72"/>
<circle cx="393.85" cy="86.60" r="2.72"/>
<circle cx="393.85" cy="81.75" r="2.72"/>
<circle cx="393.85" cy="76.90" r="2.72"/>
<circle cx="393.85" cy="72.05" r="2.72"/>
<circle cx="393.85" cy="67.20" r="2.72"/>
<circle cx="398.70" cy="110.85" r="2.72"/>
<circle cx="398.70" cy="106.00" r="2.72"/>
<circle cx="398.70" cy="101.15" r="2.72"/>
<circle cx="398.70" cy="96.30" r="2.72"/>
<circle cx="398.70" cy="91.45" r="2.72"/>
<circle cx="398.70" cy="86.60" r="2.72"/>
<circle cx="398.70" cy="81.75" r="2.72"/>
<circle cx="398.70" cy="76.90" r="2.72"/>
<circle cx="398.70" cy="72.05" r="2.72"/>
<circle cx="398.70" cy="67.20" r="2.72"/>
<circle cx="403.55" cy="115.70" r="2.72"/>
<circle cx="403.55" cy="110.85" r="2.72"/>
<circle cx="403.55" cy="106.00" r="2.72"/>
<circle cx="403.55" cy="101.15" r="2.72"/>
<circle cx="403.55" cy="96.30" r="2.72"/>
<circle cx="403.55" cy="91.45" r="2.72"/>
<circle cx="403.55" cy="86.60" r="2.72"/>
<circle cx="403.55" cy="81.75" r="2.72"/>
<circle cx="403.55" cy="76.90" r="2.72"/>
<circle cx="403.55" cy="72.05" r="2.72"/>
<circle cx="403.55" cy="67.20" r="2.72"/>
<circle cx="403.55" cy="62.35" r="2.72"/>
<circle cx="408.40" cy="120.55" r="2.72"/>
<circle cx="408.40" cy="115.70" r="2.72"/>
<circle cx="408.40" cy="110.85" r="2.72"/>
<circle cx="408.40" cy="106.00" r="2.72"/>
<circle cx="408.40" cy="101.15" r="2.72"/>
<circle cx="408.40" cy="96.30" r="2.72"/>
<circle cx="408.40" cy="91.45" r="2.72"/>
<circle cx="408.40" cy="86.60" r="2.72"/>
<circle cx="408.40" cy="81.75" r="2.72"/>
<circle cx="408.40" cy="76.90" r="2.72"/>
<circle cx="408.40" cy="72.05" r="2.72"/>
<circle cx="408.40" cy="67.20" r="2.72"/>
<circle cx="408.40" cy="62.35" r="2.72"/>
<circle cx="408.40" cy="57.50" r="2.72"/>
<circle cx="413.25" cy="130.25" r="2.72"/>
<circle cx="413.25" cy="125.40" r="2.72"/>
<circle cx="413.25" cy="120.55" r="2.72"/>
<circle cx="413.25" cy="115.70" r="2.72"/>
<circle cx="413.25" cy="110.85" r="2.72"/>
<circle cx="413.25" cy="106.00" r="2.72"/>
<circle cx="413.25" cy="101.15" r="2.72"/>
<circle cx="413.25" cy="96.30" r="2.72"/>
<circle cx="413.25" cy="91.45" r="2.72"/>
<circle cx="413.25" cy="86.60" r="2.72"/>
<circle cx="413.25" cy="81.75" r="2.72"/>
<circle cx="413.25" cy="76.90" r="2.72"/>
<circle cx="413.25" cy="72.05" r="2.72"/>
<circle cx="413.25" cy="67.20" r="2.72"/>
<circle cx="413.25" cy="62.35" r="2.72"/>
<circle cx="413.25" cy="57.50" r="2.72"/>
<circle cx="413.25" cy="52.65" r="2.72"/>
<circle cx="413.25" cy="47.80" r="2.72"/>
<circle cx="418.10" cy="113.27" r="2.72"/>
<circle cx="418.10" cy="108.42" r="2.72"/>
<circle cx="418.10" cy="103.57" r="2.72"/>
<circle cx="418.10" cy="98.72" r="2.72"/>
<circle cx="418.10" cy="93.87" r="2.72"/>
<circle cx="418.10" cy="89.02" r="2.72"/>
<circle cx="418.10" cy="84.17" r="2.72"/>
<circle cx="418.10" cy="79.32" r="2.72"/>
<circle cx="418.10" cy="74.47" r="2.72"/>
<circle cx="418.10" cy="69.62" r="2.72"/>
<circle cx="418.10" cy="64.77" r="2.72"/>
<circle cx="422.95" cy="103.57" r="2.72"/>
<circle cx="422.95" cy="98.72" r="2.72"/>
<circle cx="422.95" cy="93.87" r="2.72"/>
<circle cx="422.95" cy="89.02" r="2.72"/>
<circle cx="422.95" cy="84.17" r="2.72"/>
<circle cx="422.95" cy="79.32" r="2.72"/>
<circle cx="422.95" cy="74.47" r="2.72"/>
<circle cx="427.80" cy="115.70" r="2.72"/>
<circle cx="427.80" cy="110.85" r="2.72"/>
<circle cx="427.80" cy="106.00" r="2.72"/>
<circle cx="427.80" cy="101.15" r="2.72"/>
<circle cx="427.80" cy="96.30" r="2.72"/>
<circle cx="427.80" cy="91.45" r="2.72"/>
<circle cx="427.80" cy="86.60" r="2.72"/>
<circle cx="427.80" cy="81.75" r="2.72"/>
<circle cx="427.80" cy="76.90" r="2.72"/>
<circle cx="427.80" cy="72.05" r="2.72"/>
<circle cx="427.80" cy="67.20" r="2.72"/>
<circle cx="427.80" cy="62.35" r="2.72"/>
<circle cx="432.65" cy="106.00" r="2.72"/>
<circle cx="432.65" cy="101.15" r="2.72"/>
<circle cx="432.65" cy="96.30" r="2.72"/>
<circle cx="432.65" cy="91.45" r="2.72"/>
<circle cx="432.65" cy="86.60" r="2.72"/>
<circle cx="432.65" cy="81.75" r="2.72"/>
<circle cx="432.65" cy="76.90" r="2.72"/>
<circle cx="432.65" cy="72.05" r="2.72"/>
<circle cx="437.51" cy="103.57" r="2.72"/>
<circle cx="437.51" cy="98.72" r="2.72"/>
<circle cx="437.51" cy="93.87" r="2.72"/>
<circle cx="437.51" cy="89.02" r="2.72"/>
<circle cx="437.51" cy="84.17" r="2.72"/>
<circle cx="437.51" cy="79.32" r="2.72"/>
<circle cx="437.51" cy="74.47" r="2.72"/>
<circle cx="442.36" cy="108.42" r="2.72"/>
<circle cx="442.36" cy="103.57" r="2.72"/>
<circle cx="442.36" cy="98.72" r="2.72"/>
<circle cx="442.36" cy="93.87" r="2.72"/>
<circle cx="442.36" cy="89.02" r="2.72"/>
<circle cx="442.36" cy="84.17" r="2.72"/>
<circle cx="442.36" cy="79.32" r="2.72"/>
<circle cx="442.36" cy="74.47" r="2.72"/>
<circle cx="442.36" cy="69.62" r="2.72"/>
<circle cx="447.21" cy="108.42" r="2.72"/>
<circle cx="447.21" cy="103.57" r="2.72"/>
<circle cx="447.21" cy="98.72" r="2.72"/>
<circle cx="447.21" cy="93.87" r="2.72"/>
<circle cx="447.21" cy="89.02" r="2.72"/>
<circle cx="447.21" cy="84.17" r="2.72"/>
<circle cx="447.21" cy="79.32" r="2.72"/>
<circle cx="447.21" cy="74.47" r="2.72"/>
<circle cx="447.21" cy="69.62" r="2.72"/>
<circle cx="452.06" cy="96.30" r="2.72"/>
<circle cx="452.06" cy="91.45" r="2.72"/>
<circle cx="452.06" cy="86.60" r="2.72"/>
<circle cx="452.06" cy="81.75" r="2.72"/>
<circle cx="456.91" cy="113.27" r="2.72"/>
<circle cx="456.91" cy="108.42" r="2.72"/>
<circle cx="456.91" cy="103.57" r="2.72"/>
<circle cx="456.91" cy="98.72" r="2.72"/>
<circle cx="456.91" cy="93.87" r="2.72"/>
<circle cx="456.91" cy="89.02" r="2.72"/>
<circle cx="456.91" cy="84.17" r="2.72"/>
<circle cx="456.91" cy="79.32" r="2.72"/>
<circle cx="456.91" cy="74.47" r="2.72"/>
<circle cx="456.91" cy="69.62" r="2.72"/>
<circle cx="456.91" cy="64.77" r="2.72"/>
<circle cx="461.76" cy="106.00" r="2.72"/>
<circle cx="461.76" cy="101.15" r="2.72"/>
<circle cx="461.76" cy="96.30" r="2.72"/>
<circle cx="461.76" cy="91.45" r="2.72"/>
<circle cx="461.76" cy="86.60" r="2.72"/>
<circle cx="461.76" cy="81.75" r="2.72"/>
<circle cx="461.76" cy="76.90" r="2.72"/>
<circle cx="461.76" cy="72.05" r="2.72"/>
<circle cx="466.61" cy="98.72" r="2.72"/>
<circle cx="466.61" cy="93.87" r="2.72"/>
<circle cx="466.61" cy="89.02" r="2.72"/>
<circle cx="466.61" cy="84.17" r="2.72"/>
<circle cx="466.61" cy="79.32" r="2.72"/>
<circle cx="473.88" cy="91.45" r="2.72"/>
<circle cx="473.88" cy="86.60" r="2.72"/>
<circle cx="478.73" cy="91.45" r="2.72"/>
<circle cx="478.73" cy="86.60" r="2.72"/>
<circle cx="484.55" cy="89.02" r="2.72"/>
<circle cx="490.86" cy="91.45" r="2.72"/>
<circle cx="490.86" cy="86.60" r="2.72"/>
<circle cx="503.95" cy="91.45" r="2.72"/>
<circle cx="503.95" cy="86.60" r="2.72"/>
<circle cx="513.65" cy="89.02" r="2.72"/>
<text x="409.55" y="9.20" font-size="7.75" text-anchor="middle" fill="#000" stroke="#000" stroke-width="0.2">center</text>
<text x="409.55" y="181.45" font-size="6.45" text-anchor="middle" fill="#000" stroke="#000" stroke-width="0.15">heightIn</text>
<text transform="translate(275.20 89.02) rotate(-90)" font-size="6.45" text-anchor="middle" fill="#000" stroke="#000" stroke-width="0.15">count</text>
<text x="275.00" y="9.60" font-size="10.6" fill="#000" stroke="#000" stroke-width="0.15">C</text>
</g>
<g>
<rect x="292.10" y="204.10" width="234.90" height="155.70" fill="#dadada"/>
<line x1="292.10" x2="527.00" y1="335.03" y2="335.03" stroke="#f4f4f4" stroke-width="0.45"/>
<line x1="292.10" x2="527.00" y1="299.64" y2="299.64" stroke="#f4f4f4" stroke-width="0.45"/>
<line x1="292.10" x2="527.00" y1="264.26" y2="264.26" stroke="#f4f4f4" stroke-width="0.45"/>
<line x1="292.10" x2="527.00" y1="228.87" y2="228.87" stroke="#f4f4f4" stroke-width="0.45"/>
<line x1="324.55" x2="324.55" y1="204.10" y2="359.80" stroke="#f4f4f4" stroke-width="0.45"/>
<line x1="373.05" x2="373.05" y1="204.10" y2="359.80" stroke="#f4f4f4" stroke-width="0.45"/>
<line x1="421.55" x2="421.55" y1="204.10" y2="359.80" stroke="#f4f4f4" stroke-width="0.45"/>
<line x1="470.05" x2="470.05" y1="204.10" y2="359.80" stroke="#f4f4f4" stroke-width="0.45"/>
<line x1="292.10" x2="527.00" y1="352.72" y2="352.72" stroke="#ffffff" stroke-width="0.8"/>
<line x1="289.80" x2="292.10" y1="352.72" y2="352.72" stroke="#333333" stroke-width="0.85"/>
<text x="288.10" y="354.57" font-size="5.2" text-anchor="end" fill="#6e6e6e">-0.50</text>
<line x1="292.10" x2="527.00" y1="317.34" y2="317.34" stroke="#ffffff" stroke-width="0.8"/>
<line x1="289.80" x2="292.10" y1="317.34" y2="317.34" stroke="#333333" stroke-width="0.85"/>
<text x="288.10" y="319.19" font-size="5.2" text-anchor="end" fill="#6e6e6e">-0.25</text>
<line x1="292.10" x2="527.00" y1="281.95" y2="281.95" stroke="#ffffff" stroke-width="0.8"/>
<line x1="289.80" x2="292.10" y1="281.95" y2="281.95" stroke="#333333" stroke-width="0.85"/>
<text x="288.10" y="283.80" font-size="5.2" text-anchor="end" fill="#6e6e6e">0.00</text>
<line x1="292.10" x2="527.00" y1="246.56" y2="246.56" stroke="#ffffff" stroke-width="0.8"/>
<line x1="289.80" x2="292.10" y1="246.56" y2="246.56" stroke="#333333" stroke-width="0.85"/>
<text x="288.10" y="248.41" font-size="5.2" text-anchor="end" fill="#6e6e6e">0.25</text>
<line x1="292.10" x2="527.00" y1="211.18" y2="211.18" stroke="#ffffff" stroke-width="0.8"/>
<line x1="289.80" x2="292.10" y1="211.18" y2="211.18" stroke="#333333" stroke-width="0.85"/>
<text x="288.10" y="213.03" font-size="5.2" text-anchor="end" fill="#6e6e6e">0.50</text>
<line x1="300.30" x2="300.30" y1="204.10" y2="359.80" stroke="#ffffff" stroke-width="0.8"/>
<line x1="300.30" x2="300.30" y1="359.80" y2="362.10" stroke="#333333" stroke-width="0.85"/>
<text x="300.80" y="367.30" font-size="5.3" text-anchor="middle" fill="#6e6e6e">50</text>
<line x1="348.80" x2="348.80" y1="204.10" y2="359.80" stroke="#ffffff" stroke-width="0.8"/>
<line x1="348.80" x2="348.80" y1="359.80" y2="362.10" stroke="#333333" stroke-width="0.85"/>
<text x="349.30" y="367.30" font-size="5.3" text-anchor="middle" fill="#6e6e6e">55</text>
<line x1="397.30" x2="397.30" y1="204.10" y2="359.80" stroke="#ffffff" stroke-width="0.8"/>
<line x1="397.30" x2="397.30" y1="359.80" y2="362.10" stroke="#333333" stroke-width="0.85"/>
<text x="397.80" y="367.30" font-size="5.3" text-anchor="middle" fill="#6e6e6e">60</text>
<line x1="445.80" x2="445.80" y1="204.10" y2="359.80" stroke="#ffffff" stroke-width="0.8"/>
<line x1="445.80" x2="445.80" y1="359.80" y2="362.10" stroke="#333333" stroke-width="0.85"/>
<text x="446.30" y="367.30" font-size="5.3" text-anchor="middle" fill="#6e6e6e">65</text>
<line x1="494.30" x2="494.30" y1="204.10" y2="359.80" stroke="#ffffff" stroke-width="0.8"/>
<line x1="494.30" x2="494.30" y1="359.80" y2="362.10" stroke="#333333" stroke-width="0.85"/>
<text x="494.80" y="367.30" font-size="5.3" text-anchor="middle" fill="#6e6e6e">70</text>
<circle cx="305.15" cy="281.95" r="2.72"/>
<circle cx="313.88" cy="281.95" r="2.72"/>
<circle cx="313.88" cy="277.10" r="2.72"/>
<circle cx="326.00" cy="281.95" r="2.72"/>
<circle cx="326.00" cy="277.10" r="2.72"/>
<circle cx="333.28" cy="281.95" r="2.72"/>
<circle cx="333.28" cy="277.10" r="2.72"/>
<circle cx="337.16" cy="281.95" r="2.72"/>
<circle cx="343.95" cy="281.95" r="2.72"/>
<circle cx="343.95" cy="277.10" r="2.72"/>
<circle cx="348.80" cy="286.80" r="2.72"/>
<circle cx="348.80" cy="281.95" r="2.72"/>
<circle cx="348.80" cy="277.10" r="2.72"/>
<circle cx="348.80" cy="272.25" r="2.72"/>
<circle cx="355.11" cy="286.80" r="2.72"/>
<circle cx="355.11" cy="281.95" r="2.72"/>
<circle cx="355.11" cy="277.10" r="2.72"/>
<circle cx="355.11" cy="272.25" r="2.72"/>
<circle cx="359.95" cy="296.50" r="2.72"/>
<circle cx="359.95" cy="291.65" r="2.72"/>
<circle cx="359.95" cy="286.80" r="2.72"/>
<circle cx="359.95" cy="281.95" r="2.72"/>
<circle cx="359.95" cy="277.10" r="2.72"/>
<circle cx="359.95" cy="272.25" r="2.72"/>
<circle cx="359.95" cy="267.40" r="2.72"/>
<circle cx="364.81" cy="296.50" r="2.72"/>
<circle cx="364.81" cy="291.65" r="2.72"/>
<circle cx="364.81" cy="286.80" r="2.72"/>
<circle cx="364.81" cy="281.95" r="2.72"/>
<circle cx="364.81" cy="277.10" r="2.72"/>
<circle cx="364.81" cy="272.25" r="2.72"/>
<circle cx="364.81" cy="267.40" r="2.72"/>
<circle cx="369.65" cy="296.50" r="2.72"/>
<circle cx="369.65" cy="291.65" r="2.72"/>
<circle cx="369.65" cy="286.80" r="2.72"/>
<circle cx="369.65" cy="281.95" r="2.72"/>
<circle cx="369.65" cy="277.10" r="2.72"/>
<circle cx="369.65" cy="272.25" r="2.72"/>
<circle cx="369.65" cy="267.40" r="2.72"/>
<circle cx="374.50" cy="301.35" r="2.72"/>
<circle cx="374.50" cy="296.50" r="2.72"/>
<circle cx="374.50" cy="291.65" r="2.72"/>
<circle cx="374.50" cy="286.80" r="2.72"/>
<circle cx="374.50" cy="281.95" r="2.72"/>
<circle cx="374.50" cy="277.10" r="2.72"/>
<circle cx="374.50" cy="272.25" r="2.72"/>
<circle cx="374.50" cy="267.40" r="2.72"/>
<circle cx="374.50" cy="262.55" r="2.72"/>
<circle cx="379.36" cy="301.35" r="2.72"/>
<circle cx="379.36" cy="296.50" r="2.72"/>
<circle cx="379.36" cy="291.65" r="2.72"/>
<circle cx="379.36" cy="286.80" r="2.72"/>
<circle cx="379.36" cy="281.95" r="2.72"/>
<circle cx="379.36" cy="277.10" r="2.72"/>
<circle cx="379.36" cy="272.25" r="2.72"/>
<circle cx="379.36" cy="267.40" r="2.72"/>
<circle cx="379.36" cy="262.55" r="2.72"/>
<circle cx="379.36" cy="257.70" r="2.72"/>
<circle cx="384.20" cy="286.80" r="2.72"/>
<circle cx="384.20" cy="281.95" r="2.72"/>
<circle cx="384.20" cy="277.10" r="2.72"/>
<circle cx="389.06" cy="301.35" r="2.72"/>
<circle cx="389.06" cy="296.50" r="2.72"/>
<circle cx="389.06" cy="291.65" r="2.72"/>
<circle cx="389.06" cy="286.80" r="2.72"/>
<circle cx="389.06" cy="281.95" r="2.72"/>
<circle cx="389.06" cy="277.10" r="2.72"/>
<circle cx="389.06" cy="272.25" r="2.72"/>
<circle cx="389.06" cy="267.40" r="2.72"/>
<circle cx="389.06" cy="262.55" r="2.72"/>
<circle cx="389.06" cy="257.70" r="2.72"/>
<circle cx="393.90" cy="301.35" r="2.72"/>
<circle cx="393.90" cy="296.50" r="2.72"/>
<circle cx="393.90" cy="291.65" r="2.72"/>
<circle cx="393.90" cy="286.80" r="2.72"/>
<circle cx="393.90" cy="281.95" r="2.72"/>
<circle cx="393.90" cy="277.10" r="2.72"/>
<circle cx="393.90" cy="272.25" r="2.72"/>
<circle cx="393.90" cy="267.40" r="2.72"/>
<circle cx="393.90" cy="262.55" r="2.72"/>
<circle cx="393.90" cy="257.70" r="2.72"/>
<circle cx="398.75" cy="301.35" r="2.72"/>
<circle cx="398.75" cy="296.50" r="2.72"/>
<circle cx="398.75" cy="291.65" r="2.72"/>
<circle cx="398.75" cy="286.80" r="2.72"/>
<circle cx="398.75" cy="281.95" r="2.72"/>
<circle cx="398.75" cy="277.10" r="2.72"/>
<circle cx="398.75" cy="272.25" r="2.72"/>
<circle cx="398.75" cy="267.40" r="2.72"/>
<circle cx="398.75" cy="262.55" r="2.72"/>
<circle cx="398.75" cy="257.70" r="2.72"/>
<circle cx="403.61" cy="306.20" r="2.72"/>
<circle cx="403.61" cy="301.35" r="2.72"/>
<circle cx="403.61" cy="296.50" r="2.72"/>
<circle cx="403.61" cy="291.65" r="2.72"/>
<circle cx="403.61" cy="286.80" r="2.72"/>
<circle cx="403.61" cy="281.95" r="2.72"/>
<circle cx="403.61" cy="277.10" r="2.72"/>
<circle cx="403.61" cy="272.25" r="2.72"/>
<circle cx="403.61" cy="267.40" r="2.72"/>
<circle cx="403.61" cy="262.55" r="2.72"/>
<circle cx="403.61" cy="257.70" r="2.72"/>
<circle cx="403.61" cy="252.85" r="2.72"/>
<circle cx="408.45" cy="311.05" r="2.72"/>
<circle cx="408.45" cy="306.20" r="2.72"/>
<circle cx="408.45" cy="301.35" r="2.72"/>
<circle cx="408.45" cy="296.50" r="2.72"/>
<circle cx="408.45" cy="291.65" r="2.72"/>
<circle cx="408.45" cy="286.80" r="2.72"/>
<circle cx="408.45" cy="281.95" r="2.72"/>
<circle cx="408.45" cy="277.10" r="2.72"/>
<circle cx="408.45" cy="272.25" r="2.72"/>
<circle cx="408.45" cy="267.40" r="2.72"/>
<circle cx="408.45" cy="262.55" r="2.72"/>
<circle cx="408.45" cy="257.70" r="2.72"/>
<circle cx="408.45" cy="252.85" r="2.72"/>
<circle cx="408.45" cy="248.00" r="2.72"/>
<circle cx="413.31" cy="320.75" r="2.72"/>
<circle cx="413.31" cy="315.90" r="2.72"/>
<circle cx="413.31" cy="311.05" r="2.72"/>
<circle cx="413.31" cy="306.20" r="2.72"/>
<circle cx="413.31" cy="301.35" r="2.72"/>
<circle cx="413.31" cy="296.50" r="2.72"/>
<circle cx="413.31" cy="291.65" r="2.72"/>
<circle cx="413.31" cy="286.80" r="2.72"/>
<circle cx="413.31" cy="281.95" r="2.72"/>
<circle cx="413.31" cy="277.10" r="2.72"/>
<circle cx="413.31" cy="272.25" r="2.72"/>
<circle cx="413.31" cy="267.40" r="2.72"/>
<circle cx="413.31" cy="262.55" r="2.72"/>
<circle cx="413.31" cy="257.70" r="2.72"/>
<circle cx="413.31" cy="252.85" r="2.72"/>
<circle cx="413.31" cy="248.00" r="2.72"/>
<circle cx="413.31" cy="243.15" r="2.72"/>
<circle cx="413.31" cy="238.30" r="2.72"/>
<circle cx="418.15" cy="306.20" r="2.72"/>
<circle cx="418.15" cy="301.35" r="2.72"/>
<circle cx="418.15" cy="296.50" r="2.72"/>
<circle cx="418.15" cy="291.65" r="2.72"/>
<circle cx="418.15" cy="286.80" r="2.72"/>
<circle cx="418.15" cy="281.95" r="2.72"/>
<circle cx="418.15" cy="277.10" r="2.72"/>
<circle cx="418.15" cy="272.25" r="2.72"/>
<circle cx="418.15" cy="267.40" r="2.72"/>
<circle cx="418.15" cy="262.55" r="2.72"/>
<circle cx="418.15" cy="257.70" r="2.72"/>
<circle cx="423.00" cy="296.50" r="2.72"/>
<circle cx="423.00" cy="291.65" r="2.72"/>
<circle cx="423.00" cy="286.80" r="2.72"/>
<circle cx="423.00" cy="281.95" r="2.72"/>
<circle cx="423.00" cy="277.10" r="2.72"/>
<circle cx="423.00" cy="272.25" r="2.72"/>
<circle cx="423.00" cy="267.40" r="2.72"/>
<circle cx="427.86" cy="306.20" r="2.72"/>
<circle cx="427.86" cy="301.35" r="2.72"/>
<circle cx="427.86" cy="296.50" r="2.72"/>
<circle cx="427.86" cy="291.65" r="2.72"/>
<circle cx="427.86" cy="286.80" r="2.72"/>
<circle cx="427.86" cy="281.95" r="2.72"/>
<circle cx="427.86" cy="277.10" r="2.72"/>
<circle cx="427.86" cy="272.25" r="2.72"/>
<circle cx="427.86" cy="267.40" r="2.72"/>
<circle cx="427.86" cy="262.55" r="2.72"/>
<circle cx="427.86" cy="257.70" r="2.72"/>
<circle cx="427.86" cy="252.85" r="2.72"/>
<circle cx="432.70" cy="296.50" r="2.72"/>
<circle cx="432.70" cy="291.65" r="2.72"/>
<circle cx="432.70" cy="286.80" r="2.72"/>
<circle cx="432.70" cy="281.95" r="2.72"/>
<circle cx="432.70" cy="277.10" r="2.72"/>
<circle cx="432.70" cy="272.25" r="2.72"/>
<circle cx="432.70" cy="267.40" r="2.72"/>
<circle cx="432.70" cy="262.55" r="2.72"/>
<circle cx="437.56" cy="296.50" r="2.72"/>
<circle cx="437.56" cy="291.65" r="2.72"/>
<circle cx="437.56" cy="286.80" r="2.72"/>
<circle cx="437.56" cy="281.95" r="2.72"/>
<circle cx="437.56" cy="277.10" r="2.72"/>
<circle cx="437.56" cy="272.25" r="2.72"/>
<circle cx="437.56" cy="267.40" r="2.72"/>
<circle cx="442.41" cy="301.35" r="2.72"/>
<circle cx="442.41" cy="296.50" r="2.72"/>
<circle cx="442.41" cy="291.65" r="2.72"/>
<circle cx="442.41" cy="286.80" r="2.72"/>
<circle cx="442.41" cy="281.95" r="2.72"/>
<circle cx="442.41" cy="277.10" r="2.72"/>
<circle cx="442.41" cy="272.25" r="2.72"/>
<circle cx="442.41" cy="267.40" r="2.72"/>
<circle cx="442.41" cy="262.55" r="2.72"/>
<circle cx="447.26" cy="301.35" r="2.72"/>
<circle cx="447.26" cy="296.50" r="2.72"/>
<circle cx="447.26" cy="291.65" r="2.72"/>
<circle cx="447.26" cy="286.80" r="2.72"/>
<circle cx="447.26" cy="281.95" r="2.72"/>
<circle cx="447.26" cy="277.10" r="2.72"/>
<circle cx="447.26" cy="272.25" r="2.72"/>
<circle cx="447.26" cy="267.40" r="2.72"/>
<circle cx="447.26" cy="262.55" r="2.72"/>
<circle cx="452.11" cy="286.80" r="2.72"/>
<circle cx="452.11" cy="281.95" r="2.72"/>
<circle cx="452.11" cy="277.10" r="2.72"/>
<circle cx="452.11" cy="272.25" r="2.72"/>
<circle cx="456.96" cy="306.20" r="2.72"/>
<circle cx="456.96" cy="301.35" r="2.72"/>
<circle cx="456.96" cy="296.50" r="2.72"/>
<circle cx="456.96" cy="291.65" r="2.72"/>
<circle cx="456.96" cy="286.80" r="2.72"/>
<circle cx="456.96" cy="281.95" r="2.72"/>
<circle cx="456.96" cy="277.10" r="2.72"/>
<circle cx="456.96" cy="272.25" r="2.72"/>
<circle cx="456.96" cy="267.40" r="2.72"/>
<circle cx="456.96" cy="262.55" r="2.72"/>
<circle cx="456.96" cy="257.70" r="2.72"/>
<circle cx="461.81" cy="296.50" r="2.72"/>
<circle cx="461.81" cy="291.65" r="2.72"/>
<circle cx="461.81" cy="286.80" r="2.72"/>
<circle cx="461.81" cy="281.95" r="2.72"/>
<circle cx="461.81" cy="277.10" r="2.72"/>
<circle cx="461.81" cy="272.25" r="2.72"/>
<circle cx="461.81" cy="267.40" r="2.72"/>
<circle cx="461.81" cy="262.55" r="2.72"/>
<circle cx="466.66" cy="291.65" r="2.72"/>
<circle cx="466.66" cy="286.80" r="2.72"/>
<circle cx="466.66" cy="281.95" r="2.72"/>
<circle cx="466.66" cy="277.10" r="2.72"/>
<circle cx="466.66" cy="272.25" r="2.72"/>
<circle cx="473.93" cy="281.95" r="2.72"/>
<circle cx="473.93" cy="277.10" r="2.72"/>
<circle cx="478.78" cy="281.95" r="2.72"/>
<circle cx="478.78" cy="277.10" r="2.72"/>
<circle cx="484.60" cy="281.95" r="2.72"/>
<circle cx="490.91" cy="281.95" r="2.72"/>
<circle cx="490.91" cy="277.10" r="2.72"/>
<circle cx="504.00" cy="281.95" r="2.72"/>
<circle cx="504.00" cy="277.10" r="2.72"/>
<circle cx="513.70" cy="281.95" r="2.72"/>
<text x="409.55" y="202.20" font-size="7.75" text-anchor="middle" fill="#000" stroke="#000" stroke-width="0.2">centerwhole</text>
<text x="409.55" y="374.30" font-size="6.45" text-anchor="middle" fill="#000" stroke="#000" stroke-width="0.15">heightIn</text>
<text transform="translate(275.20 281.95) rotate(-90)" font-size="6.45" text-anchor="middle" fill="#000" stroke="#000" stroke-width="0.15">count</text>
<text x="274.90" y="202.75" font-size="10.6" fill="#000" stroke="#000" stroke-width="0.15">D</text>
</g>
</svg></body></html>
